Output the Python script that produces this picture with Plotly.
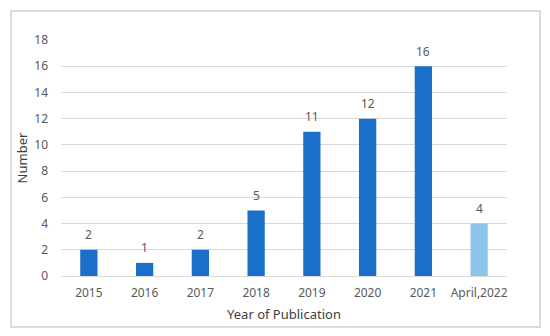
import plotly.graph_objects as go

categories = ["2015", "2016", "2017", "2018", "2019", "2020", "2021", "April,2022"]
values = [2, 1, 2, 5, 11, 12, 16, 4]
bar_colors = ["#1a70c8"] * 7 + ["#8ec5ea"]
y_ticks = [0, 2, 4, 6, 8, 10, 12, 14, 16, 18]

font_family = "Noto Sans"
gray = "#595959"
dark = "#404040"

fig = go.Figure(go.Bar(
    x=categories, y=values,
    marker=dict(color=bar_colors, line=dict(width=0)),
    hoverinfo="x+y",
))

# data labels (category axis positions are category indices)
for i, v in enumerate(values):
    fig.add_annotation(
        x=i, y=v, text=str(v), showarrow=False, yshift=15,
        font=dict(family=font_family, size=12, color=gray),
    )

L, R, T, B = 61, 43, 40, 60
W, H = 550, 336
pw, ph = W - L - R, H - T - B

def px_x(p):
    return (p - L) / pw

def px_y(p):
    return (H - B - p) / ph

fig.update_layout(
    width=W, height=H,
    margin=dict(l=L, r=R, t=T, b=B, autoexpand=False),
    paper_bgcolor="white", plot_bgcolor="white",
    bargap=0.69,
    showlegend=False,
    font=dict(family=font_family, size=12, color=gray),
    xaxis=dict(
        type="category", categoryorder="array", categoryarray=categories,
        range=[-0.5, len(categories) - 0.5],
        showgrid=False, showline=False, zeroline=False,
        tickfont=dict(family=font_family, size=12, color=gray),
        ticks="", ticklabelstandoff=8,
        title=dict(text="Year of Publication", font=dict(family=font_family, size=13, color=dark), standoff=9),
    ),
    yaxis=dict(
        range=[0, 18], tickvals=y_ticks,
        showgrid=True, gridcolor="#d9d9d9", gridwidth=1,
        zeroline=True, zerolinecolor="#d9d9d9", zerolinewidth=1,
        showline=False, ticks="", ticklabelstandoff=12,
        tickfont=dict(family=font_family, size=12, color=gray),
        title=dict(text="Number", font=dict(family=font_family, size=13, color=dark), standoff=3),
    ),
    shapes=[dict(
        type="rect", xref="paper", yref="paper",
        x0=px_x(11), x1=px_x(540), y0=px_y(327), y1=px_y(11),
        line=dict(color="#d0d0d0", width=1.5), fillcolor="rgba(0,0,0,0)", layer="above",
    )],
)

fig.write_html(
    "out.html",
    config={"displayModeBar": False},
    post_script="document.body.style.margin='0';document.body.style.padding='0';",
)
